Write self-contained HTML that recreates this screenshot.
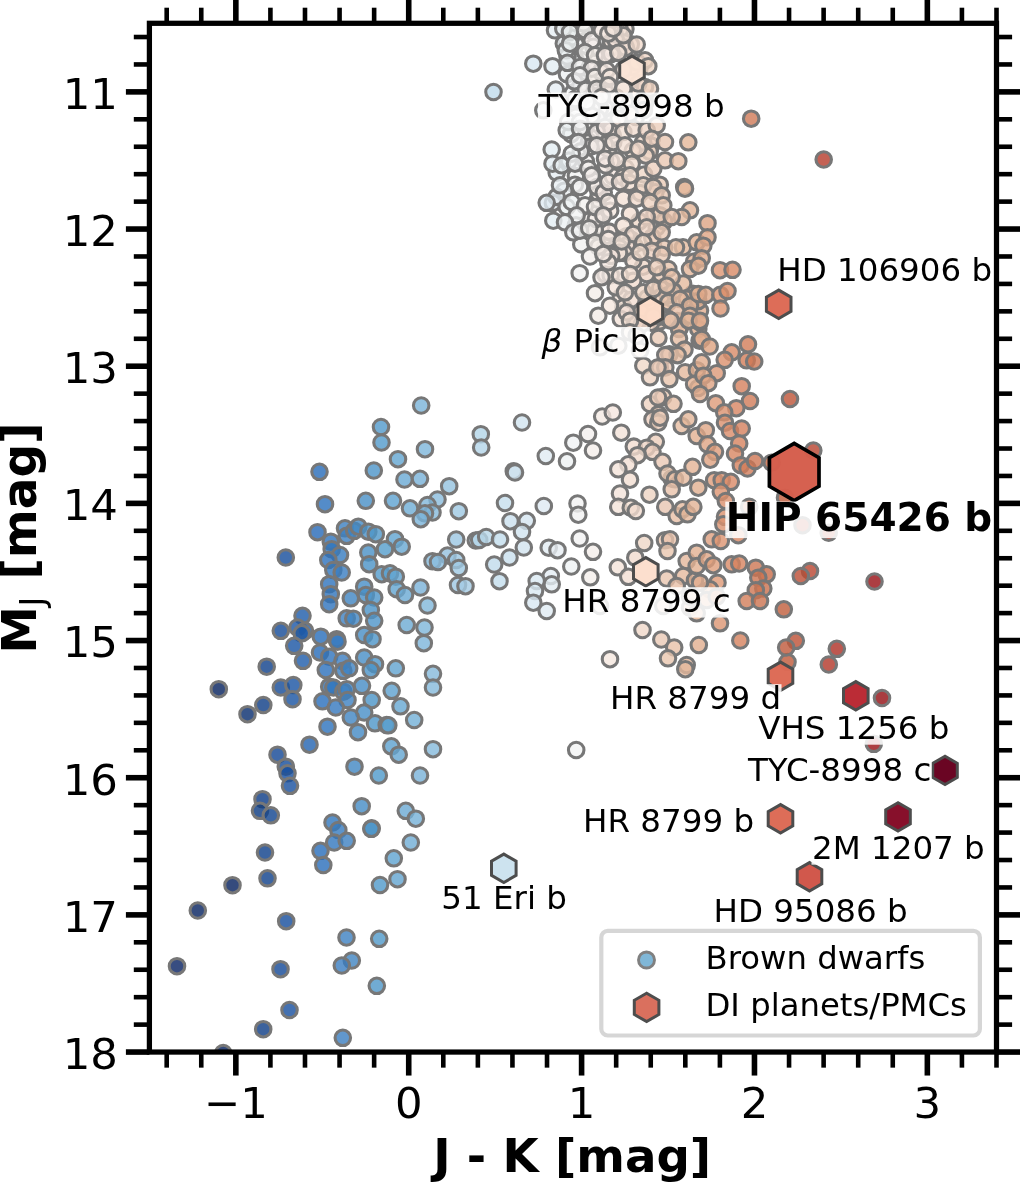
<!DOCTYPE html>
<html><head><meta charset="utf-8"><title>Color-magnitude diagram</title>
<style>html,body{margin:0;padding:0;background:#fff}svg{display:block}</style></head>
<body>
<svg width="1020" height="1182" viewBox="0 0 1020 1182" font-family="'DejaVu Sans', 'Liberation Sans', sans-serif">
<rect width="1020" height="1182" fill="#fff"/>
<defs><clipPath id="ax"><rect x="149.4" y="23.3" width="847.1" height="1028.75"/></clipPath></defs>
<g clip-path="url(#ax)">
<g stroke="#777777" stroke-width="3.1" fill-opacity="0.8">
<circle cx="601.1" cy="226.6" r="7.75" fill="#f4eae5"/>
<circle cx="620.9" cy="297.2" r="7.75" fill="#f3e2d8"/>
<circle cx="593.3" cy="46.8" r="7.75" fill="#f4edea"/>
<circle cx="583.4" cy="82.6" r="7.75" fill="#f3f1f0"/>
<circle cx="552.9" cy="202.9" r="7.75" fill="#e4edf3"/>
<circle cx="605.5" cy="274.6" r="7.75" fill="#f5e9e2"/>
<circle cx="639.5" cy="68.0" r="7.75" fill="#f0dacb"/>
<circle cx="578.1" cy="27.6" r="7.75" fill="#f3f3f3"/>
<circle cx="631.3" cy="239.7" r="7.75" fill="#f2ddd1"/>
<circle cx="640.3" cy="193.1" r="7.75" fill="#f0d9cb"/>
<circle cx="630.8" cy="44.3" r="7.75" fill="#f2ded1"/>
<circle cx="575.9" cy="176.0" r="7.75" fill="#f2f4f4"/>
<circle cx="638.4" cy="317.0" r="7.75" fill="#f1dacc"/>
<circle cx="634.0" cy="245.0" r="7.75" fill="#f1dccf"/>
<circle cx="651.3" cy="145.6" r="7.75" fill="#edd1c0"/>
<circle cx="644.2" cy="174.5" r="7.75" fill="#efd7c7"/>
<circle cx="590.3" cy="137.2" r="7.75" fill="#f4efeb"/>
<circle cx="608.5" cy="112.3" r="7.75" fill="#f5e8e0"/>
<circle cx="610.7" cy="275.2" r="7.75" fill="#f5e7df"/>
<circle cx="612.9" cy="176.5" r="7.75" fill="#f5e6de"/>
<circle cx="592.4" cy="82.3" r="7.75" fill="#f4eeea"/>
<circle cx="577.6" cy="106.7" r="7.75" fill="#f3f3f3"/>
<circle cx="611.0" cy="161.3" r="7.75" fill="#f5e7df"/>
<circle cx="572.8" cy="92.8" r="7.75" fill="#f0f3f4"/>
<circle cx="581.3" cy="60.1" r="7.75" fill="#f3f2f1"/>
<circle cx="692.7" cy="293.9" r="7.75" fill="#e3b395"/>
<circle cx="604.6" cy="80.4" r="7.75" fill="#f5e9e3"/>
<circle cx="659.9" cy="321.3" r="7.75" fill="#eacbb7"/>
<circle cx="604.9" cy="101.9" r="7.75" fill="#f5e9e3"/>
<circle cx="648.0" cy="303.0" r="7.75" fill="#eed4c3"/>
<circle cx="660.2" cy="287.9" r="7.75" fill="#eacab7"/>
<circle cx="566.9" cy="74.1" r="7.75" fill="#edf1f3"/>
<circle cx="649.7" cy="151.6" r="7.75" fill="#eed3c2"/>
<circle cx="659.9" cy="316.6" r="7.75" fill="#eacab7"/>
<circle cx="653.1" cy="242.5" r="7.75" fill="#ecd0be"/>
<circle cx="656.7" cy="227.5" r="7.75" fill="#ebcdba"/>
<circle cx="683.1" cy="283.5" r="7.75" fill="#e5ba9e"/>
<circle cx="574.4" cy="55.7" r="7.75" fill="#f1f3f4"/>
<circle cx="589.1" cy="142.0" r="7.75" fill="#f3efec"/>
<circle cx="611.6" cy="23.2" r="7.75" fill="#f5e6de"/>
<circle cx="571.1" cy="134.2" r="7.75" fill="#eff2f4"/>
<circle cx="626.7" cy="236.2" r="7.75" fill="#f2dfd4"/>
<circle cx="700.0" cy="310.6" r="7.75" fill="#e1ad8e"/>
<circle cx="625.5" cy="168.0" r="7.75" fill="#f3e0d5"/>
<circle cx="608.4" cy="149.5" r="7.75" fill="#f5e8e0"/>
<circle cx="638.7" cy="93.3" r="7.75" fill="#f1dacc"/>
<circle cx="588.7" cy="23.1" r="7.75" fill="#f3efec"/>
<circle cx="623.5" cy="307.4" r="7.75" fill="#f3e1d6"/>
<circle cx="659.8" cy="184.7" r="7.75" fill="#eacbb7"/>
<circle cx="645.8" cy="155.6" r="7.75" fill="#efd6c6"/>
<circle cx="565.7" cy="38.8" r="7.75" fill="#ecf1f3"/>
<circle cx="593.7" cy="180.8" r="7.75" fill="#f4ede9"/>
<circle cx="610.2" cy="210.7" r="7.75" fill="#f5e7df"/>
<circle cx="605.3" cy="246.7" r="7.75" fill="#f5e9e2"/>
<circle cx="586.0" cy="161.6" r="7.75" fill="#f3f0ee"/>
<circle cx="607.8" cy="93.9" r="7.75" fill="#f5e8e1"/>
<circle cx="627.9" cy="73.4" r="7.75" fill="#f2dfd3"/>
<circle cx="652.2" cy="237.4" r="7.75" fill="#edd1bf"/>
<circle cx="605.0" cy="107.8" r="7.75" fill="#f5e9e3"/>
<circle cx="635.9" cy="117.0" r="7.75" fill="#f1dbce"/>
<circle cx="686.7" cy="298.6" r="7.75" fill="#e4b79b"/>
<circle cx="623.1" cy="177.0" r="7.75" fill="#f3e1d6"/>
<circle cx="585.6" cy="127.5" r="7.75" fill="#f3f0ee"/>
<circle cx="609.3" cy="250.9" r="7.75" fill="#f5e7e0"/>
<circle cx="609.1" cy="231.6" r="7.75" fill="#f5e7e0"/>
<circle cx="572.0" cy="23.5" r="7.75" fill="#f0f2f4"/>
<circle cx="610.6" cy="48.1" r="7.75" fill="#f5e7df"/>
<circle cx="644.5" cy="97.3" r="7.75" fill="#efd7c7"/>
<circle cx="581.3" cy="244.4" r="7.75" fill="#f3f2f1"/>
<circle cx="626.9" cy="245.4" r="7.75" fill="#f2dfd4"/>
<circle cx="611.7" cy="122.4" r="7.75" fill="#f5e6de"/>
<circle cx="677.2" cy="321.0" r="7.75" fill="#e6bea4"/>
<circle cx="597.8" cy="199.7" r="7.75" fill="#f4ece7"/>
<circle cx="645.0" cy="103.1" r="7.75" fill="#efd6c7"/>
<circle cx="654.5" cy="214.2" r="7.75" fill="#eccfbd"/>
<circle cx="600.2" cy="108.2" r="7.75" fill="#f4ebe5"/>
<circle cx="664.2" cy="221.3" r="7.75" fill="#e9c7b2"/>
<circle cx="575.7" cy="116.7" r="7.75" fill="#f2f3f4"/>
<circle cx="661.1" cy="274.3" r="7.75" fill="#eacab6"/>
<circle cx="619.2" cy="247.6" r="7.75" fill="#f4e3d9"/>
<circle cx="568.9" cy="160.6" r="7.75" fill="#eef2f3"/>
<circle cx="597.5" cy="67.1" r="7.75" fill="#f4ece7"/>
<circle cx="625.0" cy="101.8" r="7.75" fill="#f3e0d5"/>
<circle cx="576.0" cy="61.1" r="7.75" fill="#f2f4f4"/>
<circle cx="593.5" cy="63.0" r="7.75" fill="#f4edea"/>
<circle cx="625.4" cy="29.1" r="7.75" fill="#f3e0d5"/>
<circle cx="612.8" cy="135.7" r="7.75" fill="#f5e6de"/>
<circle cx="575.8" cy="44.3" r="7.75" fill="#f2f4f4"/>
<circle cx="610.8" cy="40.7" r="7.75" fill="#f5e7df"/>
<circle cx="627.4" cy="54.3" r="7.75" fill="#f2dfd4"/>
<circle cx="639.4" cy="221.4" r="7.75" fill="#f0dacb"/>
<circle cx="563.8" cy="43.5" r="7.75" fill="#ebf0f3"/>
<circle cx="643.1" cy="142.4" r="7.75" fill="#f0d8c9"/>
<circle cx="598.5" cy="246.6" r="7.75" fill="#f4ebe7"/>
<circle cx="644.0" cy="110.0" r="7.75" fill="#efd7c8"/>
<circle cx="592.0" cy="95.7" r="7.75" fill="#f4eeea"/>
<circle cx="624.2" cy="253.0" r="7.75" fill="#f3e1d6"/>
<circle cx="611.2" cy="53.9" r="7.75" fill="#f5e7df"/>
<circle cx="664.0" cy="311.7" r="7.75" fill="#e9c7b2"/>
<circle cx="575.1" cy="99.1" r="7.75" fill="#f2f3f4"/>
<circle cx="632.1" cy="67.0" r="7.75" fill="#f2ddd0"/>
<circle cx="651.2" cy="322.7" r="7.75" fill="#edd1c0"/>
<circle cx="611.1" cy="129.9" r="7.75" fill="#f5e7df"/>
<circle cx="615.9" cy="97.2" r="7.75" fill="#f4e4db"/>
<circle cx="583.4" cy="23.3" r="7.75" fill="#f3f1f0"/>
<circle cx="619.0" cy="252.9" r="7.75" fill="#f4e3d9"/>
<circle cx="659.7" cy="215.2" r="7.75" fill="#eacbb7"/>
<circle cx="598.7" cy="193.7" r="7.75" fill="#f4ebe6"/>
<circle cx="604.9" cy="144.7" r="7.75" fill="#f5e9e3"/>
<circle cx="589.1" cy="220.8" r="7.75" fill="#f3efec"/>
<circle cx="640.8" cy="312.2" r="7.75" fill="#f0d9ca"/>
<circle cx="698.2" cy="301.1" r="7.75" fill="#e1af90"/>
<circle cx="631.4" cy="299.7" r="7.75" fill="#f2ddd1"/>
<circle cx="596.9" cy="187.1" r="7.75" fill="#f4ece7"/>
<circle cx="605.9" cy="165.5" r="7.75" fill="#f5e9e2"/>
<circle cx="619.9" cy="29.9" r="7.75" fill="#f3e3d9"/>
<circle cx="601.5" cy="277.3" r="7.75" fill="#f4eae5"/>
<circle cx="614.4" cy="34.2" r="7.75" fill="#f4e5dc"/>
<circle cx="664.1" cy="247.7" r="7.75" fill="#e9c7b2"/>
<circle cx="567.5" cy="56.5" r="7.75" fill="#edf1f3"/>
<circle cx="580.4" cy="86.3" r="7.75" fill="#f3f2f2"/>
<circle cx="636.5" cy="322.7" r="7.75" fill="#f1dbcd"/>
<circle cx="623.4" cy="69.6" r="7.75" fill="#f3e1d6"/>
<circle cx="667.8" cy="295.2" r="7.75" fill="#e8c5ae"/>
<circle cx="594.8" cy="230.1" r="7.75" fill="#f4ede9"/>
<circle cx="574.9" cy="184.7" r="7.75" fill="#f1f3f4"/>
<circle cx="563.2" cy="22.1" r="7.75" fill="#eaf0f3"/>
<circle cx="624.2" cy="42.5" r="7.75" fill="#f3e1d6"/>
<circle cx="603.7" cy="192.6" r="7.75" fill="#f5e9e3"/>
<circle cx="629.7" cy="113.7" r="7.75" fill="#f2ded2"/>
<circle cx="629.3" cy="182.9" r="7.75" fill="#f2ded2"/>
<circle cx="637.1" cy="62.4" r="7.75" fill="#f1dbcd"/>
<circle cx="642.0" cy="323.9" r="7.75" fill="#f0d8ca"/>
<circle cx="632.8" cy="150.8" r="7.75" fill="#f1ddd0"/>
<circle cx="556.7" cy="172.7" r="7.75" fill="#e6eef3"/>
<circle cx="564.3" cy="190.7" r="7.75" fill="#ebf0f3"/>
<circle cx="597.2" cy="118.1" r="7.75" fill="#f4ece7"/>
<circle cx="618.6" cy="118.8" r="7.75" fill="#f4e3da"/>
<circle cx="590.5" cy="146.6" r="7.75" fill="#f4eeeb"/>
<circle cx="595.5" cy="99.6" r="7.75" fill="#f4ede8"/>
<circle cx="592.1" cy="108.8" r="7.75" fill="#f4eeea"/>
<circle cx="595.9" cy="218.8" r="7.75" fill="#f4ece8"/>
<circle cx="580.8" cy="151.4" r="7.75" fill="#f3f2f1"/>
<circle cx="655.4" cy="192.3" r="7.75" fill="#eccebc"/>
<circle cx="600.8" cy="71.7" r="7.75" fill="#f4ebe5"/>
<circle cx="653.3" cy="316.1" r="7.75" fill="#ecd0be"/>
<circle cx="661.4" cy="296.7" r="7.75" fill="#eac9b5"/>
<circle cx="574.4" cy="81.3" r="7.75" fill="#f1f3f4"/>
<circle cx="571.0" cy="37.5" r="7.75" fill="#eff2f4"/>
<circle cx="585.7" cy="89.9" r="7.75" fill="#f3f0ee"/>
<circle cx="556.6" cy="196.9" r="7.75" fill="#e6eef3"/>
<circle cx="643.0" cy="266.7" r="7.75" fill="#f0d8c9"/>
<circle cx="615.8" cy="40.2" r="7.75" fill="#f4e4db"/>
<circle cx="591.6" cy="115.7" r="7.75" fill="#f4eeeb"/>
<circle cx="575.9" cy="225.4" r="7.75" fill="#f2f4f4"/>
<circle cx="626.0" cy="47.8" r="7.75" fill="#f3e0d5"/>
<circle cx="611.3" cy="255.9" r="7.75" fill="#f5e6df"/>
<circle cx="633.2" cy="280.9" r="7.75" fill="#f1dcd0"/>
<circle cx="647.4" cy="297.9" r="7.75" fill="#eed4c4"/>
<circle cx="673.5" cy="291.4" r="7.75" fill="#e7c1a8"/>
<circle cx="555.0" cy="30.3" r="7.75" fill="#e5eef3"/>
<circle cx="563.3" cy="28.7" r="7.75" fill="#eaf0f3"/>
<circle cx="570.0" cy="32.0" r="7.75" fill="#eef2f3"/>
<circle cx="585.0" cy="30.3" r="7.75" fill="#f3f1ef"/>
<circle cx="591.7" cy="40.3" r="7.75" fill="#f4eeeb"/>
<circle cx="601.7" cy="30.3" r="7.75" fill="#f4eae5"/>
<circle cx="608.3" cy="33.7" r="7.75" fill="#f5e8e1"/>
<circle cx="623.3" cy="35.3" r="7.75" fill="#f3e1d6"/>
<circle cx="636.7" cy="44.5" r="7.75" fill="#f1dbcd"/>
<circle cx="613.3" cy="28.7" r="7.75" fill="#f4e6dd"/>
<circle cx="565.8" cy="50.3" r="7.75" fill="#ecf1f3"/>
<circle cx="570.0" cy="43.7" r="7.75" fill="#eef2f3"/>
<circle cx="585.0" cy="52.0" r="7.75" fill="#f3f1ef"/>
<circle cx="595.0" cy="55.3" r="7.75" fill="#f4ede9"/>
<circle cx="605.0" cy="55.3" r="7.75" fill="#f5e9e3"/>
<circle cx="618.3" cy="52.8" r="7.75" fill="#f4e3da"/>
<circle cx="645.0" cy="60.3" r="7.75" fill="#efd6c7"/>
<circle cx="648.3" cy="66.2" r="7.75" fill="#eed4c3"/>
<circle cx="533.3" cy="63.7" r="7.75" fill="#d8e7f1"/>
<circle cx="552.5" cy="66.2" r="7.75" fill="#e4edf3"/>
<circle cx="567.5" cy="62.8" r="7.75" fill="#edf1f3"/>
<circle cx="580.0" cy="67.0" r="7.75" fill="#f3f2f2"/>
<circle cx="591.7" cy="68.7" r="7.75" fill="#f4eeeb"/>
<circle cx="580.0" cy="75.3" r="7.75" fill="#f3f2f2"/>
<circle cx="595.0" cy="77.0" r="7.75" fill="#f4ede9"/>
<circle cx="606.7" cy="70.3" r="7.75" fill="#f5e8e2"/>
<circle cx="610.0" cy="77.0" r="7.75" fill="#f5e7df"/>
<circle cx="645.0" cy="87.0" r="7.75" fill="#efd6c7"/>
<circle cx="638.3" cy="83.7" r="7.75" fill="#f1dacc"/>
<circle cx="555.8" cy="89.5" r="7.75" fill="#e6eef3"/>
<circle cx="596.7" cy="88.7" r="7.75" fill="#f4ece8"/>
<circle cx="608.3" cy="85.3" r="7.75" fill="#f5e8e1"/>
<circle cx="623.3" cy="88.7" r="7.75" fill="#f3e1d6"/>
<circle cx="650.0" cy="88.7" r="7.75" fill="#eed2c1"/>
<circle cx="543.3" cy="110.3" r="7.75" fill="#deeaf2"/>
<circle cx="568.3" cy="122.0" r="7.75" fill="#edf1f3"/>
<circle cx="586.7" cy="102.0" r="7.75" fill="#f3f0ee"/>
<circle cx="580.0" cy="122.0" r="7.75" fill="#f3f2f2"/>
<circle cx="601.7" cy="97.0" r="7.75" fill="#f4eae5"/>
<circle cx="566.7" cy="130.3" r="7.75" fill="#ecf1f3"/>
<circle cx="580.0" cy="128.7" r="7.75" fill="#f3f2f2"/>
<circle cx="596.7" cy="132.0" r="7.75" fill="#f4ece8"/>
<circle cx="605.0" cy="127.0" r="7.75" fill="#f5e9e3"/>
<circle cx="623.3" cy="132.0" r="7.75" fill="#f3e1d6"/>
<circle cx="633.3" cy="128.7" r="7.75" fill="#f1dccf"/>
<circle cx="646.7" cy="130.3" r="7.75" fill="#efd5c5"/>
<circle cx="656.7" cy="125.3" r="7.75" fill="#ebcdba"/>
<circle cx="551.7" cy="149.5" r="7.75" fill="#e3edf3"/>
<circle cx="571.7" cy="153.7" r="7.75" fill="#eff2f4"/>
<circle cx="578.3" cy="142.0" r="7.75" fill="#f3f3f3"/>
<circle cx="596.7" cy="145.3" r="7.75" fill="#f4ece8"/>
<circle cx="613.3" cy="142.0" r="7.75" fill="#f4e6dd"/>
<circle cx="625.0" cy="145.3" r="7.75" fill="#f3e0d5"/>
<circle cx="638.3" cy="148.7" r="7.75" fill="#f1dacc"/>
<circle cx="651.7" cy="138.7" r="7.75" fill="#edd1c0"/>
<circle cx="665.0" cy="142.0" r="7.75" fill="#e9c7b1"/>
<circle cx="688.3" cy="142.3" r="7.75" fill="#e4b699"/>
<circle cx="552.5" cy="163.7" r="7.75" fill="#e4edf3"/>
<circle cx="561.7" cy="165.3" r="7.75" fill="#e9f0f3"/>
<circle cx="575.0" cy="163.7" r="7.75" fill="#f1f3f4"/>
<circle cx="588.3" cy="168.7" r="7.75" fill="#f3efed"/>
<circle cx="605.0" cy="158.7" r="7.75" fill="#f5e9e3"/>
<circle cx="616.7" cy="160.3" r="7.75" fill="#f4e4db"/>
<circle cx="631.7" cy="163.7" r="7.75" fill="#f2ddd1"/>
<circle cx="653.3" cy="168.7" r="7.75" fill="#ecd0be"/>
<circle cx="665.0" cy="160.3" r="7.75" fill="#e9c7b1"/>
<circle cx="678.3" cy="161.2" r="7.75" fill="#e6bda3"/>
<circle cx="560.0" cy="185.3" r="7.75" fill="#e8eff3"/>
<circle cx="580.0" cy="187.0" r="7.75" fill="#f3f2f2"/>
<circle cx="591.7" cy="175.3" r="7.75" fill="#f4eeeb"/>
<circle cx="608.3" cy="182.0" r="7.75" fill="#f5e8e1"/>
<circle cx="620.0" cy="182.0" r="7.75" fill="#f3e2d9"/>
<circle cx="630.0" cy="175.3" r="7.75" fill="#f2ded2"/>
<circle cx="643.3" cy="185.3" r="7.75" fill="#f0d8c8"/>
<circle cx="653.3" cy="187.0" r="7.75" fill="#ecd0be"/>
<circle cx="661.7" cy="195.3" r="7.75" fill="#eac9b5"/>
<circle cx="684.2" cy="187.0" r="7.75" fill="#e5b99d"/>
<circle cx="685.0" cy="188.7" r="7.75" fill="#e4b89c"/>
<circle cx="546.7" cy="202.8" r="7.75" fill="#e0ebf3"/>
<circle cx="566.7" cy="207.0" r="7.75" fill="#ecf1f3"/>
<circle cx="571.7" cy="202.0" r="7.75" fill="#eff2f4"/>
<circle cx="585.0" cy="205.3" r="7.75" fill="#f3f1ef"/>
<circle cx="595.0" cy="207.0" r="7.75" fill="#f4ede9"/>
<circle cx="608.3" cy="202.0" r="7.75" fill="#f5e8e1"/>
<circle cx="623.3" cy="198.7" r="7.75" fill="#f3e1d6"/>
<circle cx="636.7" cy="198.7" r="7.75" fill="#f1dbcd"/>
<circle cx="650.0" cy="202.0" r="7.75" fill="#eed2c1"/>
<circle cx="663.3" cy="205.3" r="7.75" fill="#e9c8b3"/>
<circle cx="690.0" cy="210.3" r="7.75" fill="#e3b598"/>
<circle cx="681.7" cy="217.0" r="7.75" fill="#e5bba0"/>
<circle cx="576.7" cy="215.3" r="7.75" fill="#f2f4f4"/>
<circle cx="603.3" cy="215.3" r="7.75" fill="#f5eae4"/>
<circle cx="630.0" cy="213.7" r="7.75" fill="#f2ded2"/>
<circle cx="646.7" cy="217.0" r="7.75" fill="#efd5c5"/>
<circle cx="671.7" cy="217.0" r="7.75" fill="#e8c2aa"/>
<circle cx="553.3" cy="220.7" r="7.75" fill="#e4edf3"/>
<circle cx="565.0" cy="222.3" r="7.75" fill="#ebf0f3"/>
<circle cx="573.3" cy="232.3" r="7.75" fill="#f0f3f4"/>
<circle cx="580.0" cy="230.7" r="7.75" fill="#f3f2f2"/>
<circle cx="589.2" cy="228.2" r="7.75" fill="#f3efec"/>
<circle cx="595.0" cy="242.3" r="7.75" fill="#f4ede9"/>
<circle cx="590.0" cy="256.5" r="7.75" fill="#f4efec"/>
<circle cx="579.7" cy="273.2" r="7.75" fill="#f3f3f2"/>
<circle cx="608.3" cy="239.0" r="7.75" fill="#f5e8e1"/>
<circle cx="608.3" cy="262.3" r="7.75" fill="#f5e8e1"/>
<circle cx="603.3" cy="254.0" r="7.75" fill="#f5eae4"/>
<circle cx="595.0" cy="293.2" r="7.75" fill="#f4ede9"/>
<circle cx="615.8" cy="287.3" r="7.75" fill="#f4e4db"/>
<circle cx="610.0" cy="305.7" r="7.75" fill="#f5e7df"/>
<circle cx="598.3" cy="315.7" r="7.75" fill="#f4ece7"/>
<circle cx="620.8" cy="319.0" r="7.75" fill="#f3e2d8"/>
<circle cx="626.7" cy="312.3" r="7.75" fill="#f2dfd4"/>
<circle cx="630.0" cy="320.7" r="7.75" fill="#f2ded2"/>
<circle cx="600.0" cy="347.3" r="7.75" fill="#f4ebe6"/>
<circle cx="618.3" cy="345.7" r="7.75" fill="#f4e3da"/>
<circle cx="630.0" cy="332.3" r="7.75" fill="#f2ded2"/>
<circle cx="640.0" cy="350.7" r="7.75" fill="#f0d9cb"/>
<circle cx="643.3" cy="365.7" r="7.75" fill="#f0d8c8"/>
<circle cx="650.0" cy="377.3" r="7.75" fill="#eed2c1"/>
<circle cx="636.7" cy="335.7" r="7.75" fill="#f1dbcd"/>
<circle cx="650.0" cy="404.0" r="7.75" fill="#eed2c1"/>
<circle cx="623.3" cy="225.7" r="7.75" fill="#f3e1d6"/>
<circle cx="633.3" cy="234.0" r="7.75" fill="#f1dccf"/>
<circle cx="646.7" cy="227.3" r="7.75" fill="#efd5c5"/>
<circle cx="661.7" cy="232.3" r="7.75" fill="#eac9b5"/>
<circle cx="621.7" cy="241.5" r="7.75" fill="#f3e2d7"/>
<circle cx="643.3" cy="242.3" r="7.75" fill="#f0d8c8"/>
<circle cx="651.7" cy="250.7" r="7.75" fill="#edd1c0"/>
<circle cx="661.7" cy="254.8" r="7.75" fill="#eac9b5"/>
<circle cx="633.3" cy="260.7" r="7.75" fill="#f1dccf"/>
<circle cx="640.0" cy="252.3" r="7.75" fill="#f0d9cb"/>
<circle cx="620.0" cy="275.7" r="7.75" fill="#f3e2d9"/>
<circle cx="630.0" cy="274.0" r="7.75" fill="#f2ded2"/>
<circle cx="646.7" cy="274.0" r="7.75" fill="#efd5c5"/>
<circle cx="668.3" cy="269.0" r="7.75" fill="#e8c4ad"/>
<circle cx="671.7" cy="277.3" r="7.75" fill="#e8c2aa"/>
<circle cx="656.7" cy="267.3" r="7.75" fill="#ebcdba"/>
<circle cx="625.0" cy="292.3" r="7.75" fill="#f3e0d5"/>
<circle cx="643.3" cy="292.3" r="7.75" fill="#f0d8c8"/>
<circle cx="653.3" cy="289.0" r="7.75" fill="#ecd0be"/>
<circle cx="666.7" cy="285.7" r="7.75" fill="#e9c5af"/>
<circle cx="668.3" cy="302.3" r="7.75" fill="#e8c4ad"/>
<circle cx="680.0" cy="299.0" r="7.75" fill="#e6bca1"/>
<circle cx="690.0" cy="305.7" r="7.75" fill="#e3b598"/>
<circle cx="676.7" cy="312.3" r="7.75" fill="#e7bea5"/>
<circle cx="690.0" cy="315.7" r="7.75" fill="#e3b598"/>
<circle cx="668.3" cy="319.0" r="7.75" fill="#e8c4ad"/>
<circle cx="680.0" cy="327.3" r="7.75" fill="#e6bca1"/>
<circle cx="698.3" cy="329.0" r="7.75" fill="#e1af90"/>
<circle cx="683.0" cy="247.3" r="7.75" fill="#e5ba9e"/>
<circle cx="676.0" cy="247.3" r="7.75" fill="#e7bfa5"/>
<circle cx="696.7" cy="242.3" r="7.75" fill="#e2b091"/>
<circle cx="694.2" cy="261.5" r="7.75" fill="#e2b294"/>
<circle cx="690.0" cy="269.0" r="7.75" fill="#e3b598"/>
<circle cx="698.3" cy="294.0" r="7.75" fill="#e1af90"/>
<circle cx="679.0" cy="329.0" r="7.75" fill="#e6bda2"/>
<circle cx="699.6" cy="322.1" r="7.75" fill="#e1ae8e"/>
<circle cx="688.6" cy="320.7" r="7.75" fill="#e4b699"/>
<circle cx="670.8" cy="320.7" r="7.75" fill="#e8c3ab"/>
<circle cx="658.4" cy="337.9" r="7.75" fill="#ebccb8"/>
<circle cx="679.0" cy="338.6" r="7.75" fill="#e6bda2"/>
<circle cx="684.5" cy="349.6" r="7.75" fill="#e5b99d"/>
<circle cx="699.6" cy="340.6" r="7.75" fill="#e1ae8e"/>
<circle cx="669.4" cy="354.4" r="7.75" fill="#e8c4ac"/>
<circle cx="677.6" cy="355.1" r="7.75" fill="#e6bea4"/>
<circle cx="665.3" cy="355.1" r="7.75" fill="#e9c6b1"/>
<circle cx="659.8" cy="367.4" r="7.75" fill="#eacbb7"/>
<circle cx="665.3" cy="367.4" r="7.75" fill="#e9c6b1"/>
<circle cx="685.2" cy="372.2" r="7.75" fill="#e4b89c"/>
<circle cx="669.4" cy="379.1" r="7.75" fill="#e8c4ac"/>
<circle cx="696.9" cy="370.2" r="7.75" fill="#e2b091"/>
<circle cx="698.2" cy="388.0" r="7.75" fill="#e1af90"/>
<circle cx="694.1" cy="383.9" r="7.75" fill="#e2b294"/>
<circle cx="663.2" cy="396.9" r="7.75" fill="#e9c8b3"/>
<circle cx="673.5" cy="403.8" r="7.75" fill="#e7c1a8"/>
<circle cx="658.4" cy="414.1" r="7.75" fill="#ebccb8"/>
<circle cx="493.5" cy="92.0" r="7.75" fill="#bfdbeb"/>
<circle cx="633.8" cy="446.6" r="7.75" fill="#f1dccf"/>
<circle cx="671.5" cy="478.5" r="7.75" fill="#e8c2aa"/>
<circle cx="381.0" cy="427.0" r="7.75" fill="#5099ca"/>
<circle cx="381.5" cy="442.5" r="7.75" fill="#519aca"/>
<circle cx="398.0" cy="459.2" r="7.75" fill="#62a5d1"/>
<circle cx="373.8" cy="470.5" r="7.75" fill="#4b94c8"/>
<circle cx="319.5" cy="471.8" r="7.75" fill="#256ab8"/>
<circle cx="218.8" cy="689.2" r="7.75" fill="#021f5d"/>
<circle cx="247.5" cy="714.2" r="7.75" fill="#052a6d"/>
<circle cx="232.5" cy="885.2" r="7.75" fill="#021e5c"/>
<circle cx="197.8" cy="910.5" r="7.75" fill="#04205f"/>
<circle cx="286.2" cy="921.2" r="7.75" fill="#134b9b"/>
<circle cx="346.5" cy="937.5" r="7.75" fill="#3c7fc0"/>
<circle cx="379.2" cy="938.8" r="7.75" fill="#4f98c9"/>
<circle cx="380.0" cy="885.0" r="7.75" fill="#4f99c9"/>
<circle cx="177.0" cy="966.2" r="7.75" fill="#062162"/>
<circle cx="280.5" cy="969.2" r="7.75" fill="#114796"/>
<circle cx="351.8" cy="960.5" r="7.75" fill="#3f83c1"/>
<circle cx="341.8" cy="965.5" r="7.75" fill="#387cbf"/>
<circle cx="376.8" cy="985.8" r="7.75" fill="#4d96c8"/>
<circle cx="289.5" cy="1010.0" r="7.75" fill="#154e9e"/>
<circle cx="263.2" cy="1029.2" r="7.75" fill="#0b3b85"/>
<circle cx="342.8" cy="1037.8" r="7.75" fill="#397dbf"/>
<circle cx="223.2" cy="1053.0" r="7.75" fill="#021f5d"/>
<circle cx="421.2" cy="405.5" r="7.75" fill="#79b3d8"/>
<circle cx="425.0" cy="449.2" r="7.75" fill="#7db5d9"/>
<circle cx="404.5" cy="479.5" r="7.75" fill="#69a9d3"/>
<circle cx="420.0" cy="478.8" r="7.75" fill="#78b2d8"/>
<circle cx="449.2" cy="486.2" r="7.75" fill="#94c2df"/>
<circle cx="437.5" cy="499.5" r="7.75" fill="#89bcdc"/>
<circle cx="427.5" cy="505.0" r="7.75" fill="#7fb6da"/>
<circle cx="432.5" cy="512.5" r="7.75" fill="#84b9db"/>
<circle cx="458.8" cy="511.2" r="7.75" fill="#9dc8e2"/>
<circle cx="480.8" cy="434.2" r="7.75" fill="#b2d4e7"/>
<circle cx="481.2" cy="447.5" r="7.75" fill="#b3d4e8"/>
<circle cx="522.0" cy="422.5" r="7.75" fill="#d1e4ef"/>
<circle cx="513.8" cy="471.2" r="7.75" fill="#cce1ee"/>
<circle cx="515.0" cy="472.5" r="7.75" fill="#cde1ee"/>
<circle cx="505.0" cy="503.0" r="7.75" fill="#c6deed"/>
<circle cx="510.5" cy="521.2" r="7.75" fill="#cae0ed"/>
<circle cx="526.8" cy="520.8" r="7.75" fill="#d4e5f0"/>
<circle cx="522.0" cy="532.0" r="7.75" fill="#d1e4ef"/>
<circle cx="456.2" cy="539.5" r="7.75" fill="#9bc6e1"/>
<circle cx="475.8" cy="540.5" r="7.75" fill="#aed1e6"/>
<circle cx="479.2" cy="540.0" r="7.75" fill="#b1d3e7"/>
<circle cx="486.2" cy="537.0" r="7.75" fill="#b8d7e9"/>
<circle cx="500.0" cy="539.5" r="7.75" fill="#c3ddec"/>
<circle cx="523.8" cy="547.5" r="7.75" fill="#d2e4ef"/>
<circle cx="447.5" cy="555.5" r="7.75" fill="#93c1df"/>
<circle cx="456.2" cy="560.0" r="7.75" fill="#9bc6e1"/>
<circle cx="432.5" cy="561.2" r="7.75" fill="#84b9db"/>
<circle cx="438.0" cy="562.0" r="7.75" fill="#89bcdd"/>
<circle cx="458.8" cy="568.0" r="7.75" fill="#9dc8e2"/>
<circle cx="509.5" cy="557.5" r="7.75" fill="#c9e0ed"/>
<circle cx="494.2" cy="564.5" r="7.75" fill="#c0dbeb"/>
<circle cx="499.5" cy="581.2" r="7.75" fill="#c3ddec"/>
<circle cx="458.0" cy="585.0" r="7.75" fill="#9dc7e2"/>
<circle cx="465.5" cy="586.2" r="7.75" fill="#a4cbe4"/>
<circle cx="420.5" cy="587.5" r="7.75" fill="#79b2d8"/>
<circle cx="427.5" cy="605.5" r="7.75" fill="#7fb6da"/>
<circle cx="424.5" cy="627.5" r="7.75" fill="#7db5d9"/>
<circle cx="423.8" cy="643.2" r="7.75" fill="#7cb4d9"/>
<circle cx="657.5" cy="367.5" r="7.75" fill="#ebccb9"/>
<circle cx="658.0" cy="397.5" r="7.75" fill="#ebccb9"/>
<circle cx="433.0" cy="673.8" r="7.75" fill="#85b9db"/>
<circle cx="433.0" cy="687.5" r="7.75" fill="#85b9db"/>
<circle cx="433.0" cy="749.2" r="7.75" fill="#85b9db"/>
<circle cx="576.2" cy="750.0" r="7.75" fill="#f2f4f4"/>
<circle cx="882.0" cy="698.0" r="7.75" fill="#940d12"/>
<circle cx="828.8" cy="664.5" r="7.75" fill="#b23427"/>
<circle cx="787.5" cy="662.0" r="7.75" fill="#be5737"/>
<circle cx="873.8" cy="743.8" r="7.75" fill="#980e13"/>
<circle cx="707.5" cy="223.2" r="7.75" fill="#dfa483"/>
<circle cx="707.5" cy="237.3" r="7.75" fill="#dfa483"/>
<circle cx="703.3" cy="245.7" r="7.75" fill="#e0a989"/>
<circle cx="701.7" cy="258.2" r="7.75" fill="#e0ab8c"/>
<circle cx="698.3" cy="265.7" r="7.75" fill="#e1af90"/>
<circle cx="720.0" cy="270.2" r="7.75" fill="#dc9572"/>
<circle cx="732.5" cy="269.8" r="7.75" fill="#d88965"/>
<circle cx="705.8" cy="294.8" r="7.75" fill="#dfa686"/>
<circle cx="720.3" cy="294.8" r="7.75" fill="#dc9572"/>
<circle cx="727.5" cy="291.0" r="7.75" fill="#da8e6a"/>
<circle cx="720.5" cy="308.5" r="7.75" fill="#dc9572"/>
<circle cx="700.0" cy="320.7" r="7.75" fill="#e1ad8e"/>
<circle cx="701.7" cy="339.0" r="7.75" fill="#e0ab8c"/>
<circle cx="709.7" cy="346.5" r="7.75" fill="#dfa280"/>
<circle cx="748.0" cy="344.3" r="7.75" fill="#d17c58"/>
<circle cx="731.7" cy="352.3" r="7.75" fill="#d88a66"/>
<circle cx="724.7" cy="359.8" r="7.75" fill="#db906d"/>
<circle cx="746.7" cy="360.3" r="7.75" fill="#d27d59"/>
<circle cx="754.2" cy="361.5" r="7.75" fill="#ce7754"/>
<circle cx="701.7" cy="362.3" r="7.75" fill="#e0ab8c"/>
<circle cx="716.7" cy="373.2" r="7.75" fill="#dd9977"/>
<circle cx="703.3" cy="375.7" r="7.75" fill="#e0a989"/>
<circle cx="708.3" cy="383.2" r="7.75" fill="#dfa382"/>
<circle cx="741.7" cy="386.2" r="7.75" fill="#d5805c"/>
<circle cx="700.0" cy="394.0" r="7.75" fill="#e1ad8e"/>
<circle cx="715.8" cy="403.2" r="7.75" fill="#dd9a78"/>
<circle cx="750.0" cy="401.0" r="7.75" fill="#d07a57"/>
<circle cx="736.3" cy="408.2" r="7.75" fill="#d78561"/>
<circle cx="724.2" cy="412.3" r="7.75" fill="#db916e"/>
<circle cx="790.0" cy="399.0" r="7.75" fill="#bd5336"/>
<circle cx="545.8" cy="456.0" r="7.75" fill="#e0ebf3"/>
<circle cx="567.0" cy="461.3" r="7.75" fill="#edf1f3"/>
<circle cx="573.3" cy="442.7" r="7.75" fill="#f0f3f4"/>
<circle cx="588.0" cy="434.0" r="7.75" fill="#f3efed"/>
<circle cx="593.0" cy="450.5" r="7.75" fill="#f4eeea"/>
<circle cx="602.2" cy="416.5" r="7.75" fill="#f4eae4"/>
<circle cx="612.8" cy="412.5" r="7.75" fill="#f5e6de"/>
<circle cx="621.3" cy="432.7" r="7.75" fill="#f3e2d8"/>
<circle cx="652.5" cy="419.3" r="7.75" fill="#edd0bf"/>
<circle cx="658.3" cy="422.7" r="7.75" fill="#ebccb9"/>
<circle cx="660.0" cy="417.7" r="7.75" fill="#eacab7"/>
<circle cx="681.7" cy="426.0" r="7.75" fill="#e5bba0"/>
<circle cx="688.3" cy="419.3" r="7.75" fill="#e4b699"/>
<circle cx="696.7" cy="436.0" r="7.75" fill="#e2b091"/>
<circle cx="655.8" cy="441.8" r="7.75" fill="#eccebb"/>
<circle cx="646.7" cy="447.7" r="7.75" fill="#efd5c5"/>
<circle cx="652.5" cy="451.8" r="7.75" fill="#edd0bf"/>
<circle cx="637.5" cy="455.2" r="7.75" fill="#f1dbcd"/>
<circle cx="628.3" cy="464.3" r="7.75" fill="#f2dfd3"/>
<circle cx="618.3" cy="469.3" r="7.75" fill="#f4e3da"/>
<circle cx="630.0" cy="479.7" r="7.75" fill="#f2ded2"/>
<circle cx="662.5" cy="461.8" r="7.75" fill="#eac8b4"/>
<circle cx="667.5" cy="473.5" r="7.75" fill="#e9c5ae"/>
<circle cx="675.0" cy="479.3" r="7.75" fill="#e7bfa6"/>
<circle cx="683.3" cy="477.7" r="7.75" fill="#e5b99e"/>
<circle cx="692.5" cy="466.8" r="7.75" fill="#e3b395"/>
<circle cx="671.7" cy="489.3" r="7.75" fill="#e8c2aa"/>
<circle cx="698.3" cy="487.7" r="7.75" fill="#e1af90"/>
<circle cx="620.0" cy="493.5" r="7.75" fill="#f3e2d9"/>
<circle cx="649.5" cy="494.7" r="7.75" fill="#eed3c2"/>
<circle cx="618.3" cy="506.8" r="7.75" fill="#f4e3da"/>
<circle cx="630.8" cy="507.7" r="7.75" fill="#f2ded1"/>
<circle cx="635.8" cy="511.0" r="7.75" fill="#f1dbce"/>
<circle cx="665.3" cy="506.8" r="7.75" fill="#e9c6b1"/>
<circle cx="676.7" cy="516.0" r="7.75" fill="#e7bea5"/>
<circle cx="682.5" cy="509.3" r="7.75" fill="#e5ba9f"/>
<circle cx="687.5" cy="514.3" r="7.75" fill="#e4b69a"/>
<circle cx="693.3" cy="506.8" r="7.75" fill="#e2b294"/>
<circle cx="543.8" cy="506.0" r="7.75" fill="#dfeaf2"/>
<circle cx="577.5" cy="503.5" r="7.75" fill="#f3f3f3"/>
<circle cx="578.3" cy="514.7" r="7.75" fill="#f3f3f3"/>
<circle cx="579.7" cy="538.5" r="7.75" fill="#f3f3f2"/>
<circle cx="548.7" cy="547.7" r="7.75" fill="#e2ecf3"/>
<circle cx="557.5" cy="550.2" r="7.75" fill="#e7eef3"/>
<circle cx="593.0" cy="551.8" r="7.75" fill="#f4eeea"/>
<circle cx="644.2" cy="543.0" r="7.75" fill="#efd7c7"/>
<circle cx="665.0" cy="540.2" r="7.75" fill="#e9c7b1"/>
<circle cx="670.0" cy="539.3" r="7.75" fill="#e8c3ac"/>
<circle cx="667.5" cy="551.0" r="7.75" fill="#e9c5ae"/>
<circle cx="635.3" cy="557.7" r="7.75" fill="#f1dbce"/>
<circle cx="571.3" cy="566.5" r="7.75" fill="#eff2f4"/>
<circle cx="617.8" cy="567.3" r="7.75" fill="#f4e3da"/>
<circle cx="590.3" cy="577.3" r="7.75" fill="#f4efeb"/>
<circle cx="628.3" cy="576.8" r="7.75" fill="#f2dfd3"/>
<circle cx="666.7" cy="578.5" r="7.75" fill="#e9c5af"/>
<circle cx="550.8" cy="576.0" r="7.75" fill="#e3ecf3"/>
<circle cx="551.7" cy="584.3" r="7.75" fill="#e3edf3"/>
<circle cx="536.7" cy="581.0" r="7.75" fill="#dae8f1"/>
<circle cx="535.0" cy="591.0" r="7.75" fill="#d9e8f1"/>
<circle cx="533.3" cy="602.7" r="7.75" fill="#d8e7f1"/>
<circle cx="546.7" cy="611.0" r="7.75" fill="#e0ebf3"/>
<circle cx="686.7" cy="561.0" r="7.75" fill="#e4b79b"/>
<circle cx="696.7" cy="552.7" r="7.75" fill="#e2b091"/>
<circle cx="683.3" cy="576.0" r="7.75" fill="#e5b99e"/>
<circle cx="695.0" cy="580.2" r="7.75" fill="#e2b193"/>
<circle cx="696.7" cy="566.0" r="7.75" fill="#e2b091"/>
<circle cx="676.7" cy="586.0" r="7.75" fill="#e7bea5"/>
<circle cx="600.0" cy="606.0" r="7.75" fill="#f4ebe6"/>
<circle cx="663.3" cy="606.0" r="7.75" fill="#e9c8b3"/>
<circle cx="690.0" cy="607.7" r="7.75" fill="#e3b598"/>
<circle cx="705.8" cy="430.2" r="7.75" fill="#dfa686"/>
<circle cx="707.5" cy="444.3" r="7.75" fill="#dfa483"/>
<circle cx="715.0" cy="451.8" r="7.75" fill="#dd9b79"/>
<circle cx="710.3" cy="459.7" r="7.75" fill="#dea180"/>
<circle cx="725.0" cy="422.7" r="7.75" fill="#da906d"/>
<circle cx="730.0" cy="431.0" r="7.75" fill="#d98b68"/>
<circle cx="741.7" cy="428.5" r="7.75" fill="#d5805c"/>
<circle cx="739.2" cy="443.5" r="7.75" fill="#d6825e"/>
<circle cx="735.0" cy="453.5" r="7.75" fill="#d78662"/>
<circle cx="740.8" cy="465.2" r="7.75" fill="#d5815d"/>
<circle cx="747.5" cy="468.5" r="7.75" fill="#d27c59"/>
<circle cx="755.0" cy="461.0" r="7.75" fill="#ce7653"/>
<circle cx="771.7" cy="462.7" r="7.75" fill="#c56845"/>
<circle cx="813.3" cy="450.5" r="7.75" fill="#b8412d"/>
<circle cx="714.2" cy="480.2" r="7.75" fill="#dd9c7a"/>
<circle cx="721.7" cy="480.2" r="7.75" fill="#dc9370"/>
<circle cx="730.8" cy="481.8" r="7.75" fill="#d98a67"/>
<circle cx="720.8" cy="491.8" r="7.75" fill="#dc9471"/>
<circle cx="725.8" cy="501.0" r="7.75" fill="#da8f6c"/>
<circle cx="749.2" cy="506.8" r="7.75" fill="#d17b58"/>
<circle cx="725.0" cy="516.8" r="7.75" fill="#da906d"/>
<circle cx="723.3" cy="524.3" r="7.75" fill="#db926f"/>
<circle cx="738.3" cy="535.2" r="7.75" fill="#d6835f"/>
<circle cx="802.5" cy="525.2" r="7.75" fill="#ba4931"/>
<circle cx="828.7" cy="532.7" r="7.75" fill="#b23427"/>
<circle cx="711.7" cy="539.3" r="7.75" fill="#de9f7e"/>
<circle cx="720.8" cy="541.0" r="7.75" fill="#dc9471"/>
<circle cx="785.0" cy="497.7" r="7.75" fill="#bf5a3a"/>
<circle cx="706.7" cy="559.3" r="7.75" fill="#dfa585"/>
<circle cx="713.3" cy="565.2" r="7.75" fill="#de9d7b"/>
<circle cx="731.7" cy="564.3" r="7.75" fill="#d88a66"/>
<circle cx="739.2" cy="563.5" r="7.75" fill="#d6825e"/>
<circle cx="755.8" cy="567.7" r="7.75" fill="#cd7552"/>
<circle cx="766.7" cy="574.3" r="7.75" fill="#c86c49"/>
<circle cx="758.3" cy="577.7" r="7.75" fill="#cc7350"/>
<circle cx="763.3" cy="588.5" r="7.75" fill="#c96f4c"/>
<circle cx="755.8" cy="590.2" r="7.75" fill="#cd7552"/>
<circle cx="746.7" cy="601.0" r="7.75" fill="#d27d59"/>
<circle cx="760.0" cy="601.0" r="7.75" fill="#cb724f"/>
<circle cx="810.0" cy="571.0" r="7.75" fill="#b8432e"/>
<circle cx="800.8" cy="576.0" r="7.75" fill="#ba4b32"/>
<circle cx="874.5" cy="581.5" r="7.75" fill="#970e13"/>
<circle cx="783.8" cy="609.3" r="7.75" fill="#bf5c3b"/>
<circle cx="717.5" cy="582.7" r="7.75" fill="#dd9876"/>
<circle cx="710.0" cy="589.3" r="7.75" fill="#dea180"/>
<circle cx="700.0" cy="582.7" r="7.75" fill="#e1ad8e"/>
<circle cx="642.5" cy="630.0" r="7.75" fill="#f0d8c9"/>
<circle cx="610.0" cy="659.2" r="7.75" fill="#f5e7df"/>
<circle cx="661.3" cy="639.5" r="7.75" fill="#eac9b5"/>
<circle cx="674.2" cy="647.5" r="7.75" fill="#e7c0a7"/>
<circle cx="668.0" cy="658.3" r="7.75" fill="#e8c5ae"/>
<circle cx="686.7" cy="665.0" r="7.75" fill="#e4b79b"/>
<circle cx="685.3" cy="669.2" r="7.75" fill="#e4b89c"/>
<circle cx="698.8" cy="645.0" r="7.75" fill="#e1ae8f"/>
<circle cx="720.0" cy="623.3" r="7.75" fill="#dc9572"/>
<circle cx="740.3" cy="640.5" r="7.75" fill="#d5815d"/>
<circle cx="696.7" cy="613.3" r="7.75" fill="#e2b091"/>
<circle cx="706.7" cy="600.0" r="7.75" fill="#dfa585"/>
<circle cx="716.7" cy="596.7" r="7.75" fill="#dd9977"/>
<circle cx="690.0" cy="596.7" r="7.75" fill="#e3b598"/>
<circle cx="751.2" cy="118.7" r="7.75" fill="#d07956"/>
<circle cx="823.7" cy="159.5" r="7.75" fill="#b53929"/>
<circle cx="795.8" cy="640.8" r="7.75" fill="#bb4f33"/>
<circle cx="786.2" cy="647.5" r="7.75" fill="#be5839"/>
<circle cx="836.8" cy="648.8" r="7.75" fill="#ad2e24"/>
<circle cx="325.0" cy="504.2" r="7.75" fill="#296fbb"/>
<circle cx="365.8" cy="500.8" r="7.75" fill="#478ec5"/>
<circle cx="393.0" cy="500.8" r="7.75" fill="#5da1cf"/>
<circle cx="410.0" cy="508.3" r="7.75" fill="#6eacd5"/>
<circle cx="425.0" cy="513.3" r="7.75" fill="#7db5d9"/>
<circle cx="420.8" cy="519.2" r="7.75" fill="#79b3d8"/>
<circle cx="317.5" cy="532.2" r="7.75" fill="#2468b6"/>
<circle cx="345.0" cy="528.3" r="7.75" fill="#3b7ebf"/>
<circle cx="346.7" cy="535.8" r="7.75" fill="#3c80c0"/>
<circle cx="354.2" cy="530.8" r="7.75" fill="#4085c2"/>
<circle cx="358.3" cy="526.7" r="7.75" fill="#4288c3"/>
<circle cx="368.3" cy="531.7" r="7.75" fill="#4890c6"/>
<circle cx="375.8" cy="534.2" r="7.75" fill="#4d96c8"/>
<circle cx="330.8" cy="541.7" r="7.75" fill="#2e73bc"/>
<circle cx="331.7" cy="549.2" r="7.75" fill="#2f74bc"/>
<circle cx="340.0" cy="555.0" r="7.75" fill="#367abe"/>
<circle cx="285.8" cy="557.5" r="7.75" fill="#134b9a"/>
<circle cx="395.0" cy="539.2" r="7.75" fill="#5fa3cf"/>
<circle cx="401.7" cy="546.7" r="7.75" fill="#66a7d2"/>
<circle cx="385.0" cy="549.2" r="7.75" fill="#549ccb"/>
<circle cx="368.3" cy="552.5" r="7.75" fill="#4890c6"/>
<circle cx="369.2" cy="564.2" r="7.75" fill="#4991c6"/>
<circle cx="328.3" cy="560.0" r="7.75" fill="#2c71bc"/>
<circle cx="333.3" cy="570.0" r="7.75" fill="#3075bd"/>
<circle cx="341.7" cy="572.5" r="7.75" fill="#387cbf"/>
<circle cx="381.7" cy="574.2" r="7.75" fill="#519aca"/>
<circle cx="390.0" cy="573.3" r="7.75" fill="#5a9fcd"/>
<circle cx="395.8" cy="576.7" r="7.75" fill="#60a3d0"/>
<circle cx="329.2" cy="584.2" r="7.75" fill="#2d72bc"/>
<circle cx="330.8" cy="594.2" r="7.75" fill="#2e73bc"/>
<circle cx="329.2" cy="604.2" r="7.75" fill="#2d72bc"/>
<circle cx="364.2" cy="586.7" r="7.75" fill="#468dc5"/>
<circle cx="365.8" cy="595.0" r="7.75" fill="#478ec5"/>
<circle cx="374.2" cy="597.5" r="7.75" fill="#4c94c8"/>
<circle cx="350.8" cy="598.3" r="7.75" fill="#3e83c1"/>
<circle cx="396.7" cy="589.2" r="7.75" fill="#61a4d0"/>
<circle cx="405.0" cy="595.0" r="7.75" fill="#69a9d3"/>
<circle cx="370.8" cy="610.0" r="7.75" fill="#4a92c7"/>
<circle cx="374.2" cy="620.8" r="7.75" fill="#4c94c8"/>
<circle cx="346.7" cy="618.3" r="7.75" fill="#3c80c0"/>
<circle cx="353.3" cy="618.7" r="7.75" fill="#4085c2"/>
<circle cx="302.5" cy="615.8" r="7.75" fill="#1c5aa9"/>
<circle cx="406.7" cy="625.0" r="7.75" fill="#6baad3"/>
<circle cx="280.8" cy="630.8" r="7.75" fill="#114896"/>
<circle cx="297.5" cy="627.5" r="7.75" fill="#1955a5"/>
<circle cx="305.0" cy="630.8" r="7.75" fill="#1d5cab"/>
<circle cx="301.7" cy="633.3" r="7.75" fill="#1b59a8"/>
<circle cx="320.8" cy="636.7" r="7.75" fill="#266bb9"/>
<circle cx="336.7" cy="639.2" r="7.75" fill="#3378bd"/>
<circle cx="337.5" cy="641.7" r="7.75" fill="#3478be"/>
<circle cx="364.2" cy="635.0" r="7.75" fill="#468dc5"/>
<circle cx="372.5" cy="639.2" r="7.75" fill="#4b93c7"/>
<circle cx="294.2" cy="645.8" r="7.75" fill="#1752a2"/>
<circle cx="320.0" cy="652.5" r="7.75" fill="#256ab8"/>
<circle cx="329.2" cy="656.7" r="7.75" fill="#2d72bc"/>
<circle cx="303.0" cy="660.8" r="7.75" fill="#1c5aa9"/>
<circle cx="342.5" cy="660.8" r="7.75" fill="#397cbf"/>
<circle cx="364.2" cy="657.5" r="7.75" fill="#468dc5"/>
<circle cx="375.0" cy="664.2" r="7.75" fill="#4c95c8"/>
<circle cx="370.8" cy="670.0" r="7.75" fill="#4a92c7"/>
<circle cx="266.7" cy="666.7" r="7.75" fill="#0c3e89"/>
<circle cx="325.8" cy="670.0" r="7.75" fill="#2a6fbb"/>
<circle cx="343.3" cy="670.8" r="7.75" fill="#397dbf"/>
<circle cx="349.2" cy="668.3" r="7.75" fill="#3d81c0"/>
<circle cx="395.8" cy="668.3" r="7.75" fill="#60a3d0"/>
<circle cx="280.8" cy="687.5" r="7.75" fill="#114896"/>
<circle cx="293.3" cy="685.0" r="7.75" fill="#1751a1"/>
<circle cx="292.5" cy="699.2" r="7.75" fill="#1751a0"/>
<circle cx="263.3" cy="705.0" r="7.75" fill="#0b3b85"/>
<circle cx="329.2" cy="686.7" r="7.75" fill="#2d72bc"/>
<circle cx="333.3" cy="687.5" r="7.75" fill="#3075bd"/>
<circle cx="343.3" cy="691.7" r="7.75" fill="#397dbf"/>
<circle cx="346.7" cy="689.2" r="7.75" fill="#3c80c0"/>
<circle cx="347.5" cy="700.0" r="7.75" fill="#3c80c0"/>
<circle cx="362.0" cy="685.8" r="7.75" fill="#458bc4"/>
<circle cx="391.7" cy="690.8" r="7.75" fill="#5ca0ce"/>
<circle cx="322.5" cy="701.3" r="7.75" fill="#276dba"/>
<circle cx="335.8" cy="707.5" r="7.75" fill="#3377bd"/>
<circle cx="371.7" cy="700.0" r="7.75" fill="#4a93c7"/>
<circle cx="400.5" cy="706.3" r="7.75" fill="#65a6d1"/>
<circle cx="364.2" cy="712.5" r="7.75" fill="#468dc5"/>
<circle cx="350.8" cy="717.5" r="7.75" fill="#3e83c1"/>
<circle cx="414.2" cy="720.0" r="7.75" fill="#72afd6"/>
<circle cx="327.5" cy="726.7" r="7.75" fill="#2b71bb"/>
<circle cx="375.0" cy="723.3" r="7.75" fill="#4c95c8"/>
<circle cx="386.7" cy="725.0" r="7.75" fill="#569dcc"/>
<circle cx="388.3" cy="725.3" r="7.75" fill="#589ecd"/>
<circle cx="358.0" cy="732.2" r="7.75" fill="#4288c3"/>
<circle cx="309.5" cy="744.7" r="7.75" fill="#2061af"/>
<circle cx="391.3" cy="746.3" r="7.75" fill="#5ba0ce"/>
<circle cx="398.7" cy="754.7" r="7.75" fill="#63a5d1"/>
<circle cx="277.5" cy="754.7" r="7.75" fill="#104593"/>
<circle cx="285.8" cy="766.7" r="7.75" fill="#134b9a"/>
<circle cx="287.5" cy="773.3" r="7.75" fill="#144c9c"/>
<circle cx="290.0" cy="785.8" r="7.75" fill="#154e9e"/>
<circle cx="354.5" cy="766.7" r="7.75" fill="#4086c2"/>
<circle cx="378.8" cy="775.5" r="7.75" fill="#4e98c9"/>
<circle cx="420.0" cy="775.5" r="7.75" fill="#78b2d8"/>
<circle cx="262.5" cy="799.2" r="7.75" fill="#0a3a84"/>
<circle cx="260.0" cy="810.8" r="7.75" fill="#093880"/>
<circle cx="270.8" cy="815.3" r="7.75" fill="#0d418d"/>
<circle cx="361.7" cy="806.2" r="7.75" fill="#448bc4"/>
<circle cx="405.8" cy="810.8" r="7.75" fill="#6aa9d3"/>
<circle cx="415.8" cy="818.7" r="7.75" fill="#74b0d7"/>
<circle cx="332.5" cy="822.5" r="7.75" fill="#3075bc"/>
<circle cx="338.3" cy="830.0" r="7.75" fill="#3579be"/>
<circle cx="371.7" cy="828.3" r="7.75" fill="#4a93c7"/>
<circle cx="371.3" cy="828.8" r="7.75" fill="#4a92c7"/>
<circle cx="334.2" cy="842.5" r="7.75" fill="#3176bd"/>
<circle cx="346.7" cy="840.8" r="7.75" fill="#3c80c0"/>
<circle cx="320.5" cy="850.8" r="7.75" fill="#266bb9"/>
<circle cx="410.8" cy="842.5" r="7.75" fill="#6fadd5"/>
<circle cx="265.0" cy="852.5" r="7.75" fill="#0b3d88"/>
<circle cx="323.3" cy="865.0" r="7.75" fill="#286dba"/>
<circle cx="393.8" cy="858.3" r="7.75" fill="#5ea2cf"/>
<circle cx="267.5" cy="878.3" r="7.75" fill="#0c3f8a"/>
<circle cx="397.5" cy="879.2" r="7.75" fill="#62a4d0"/>
</g>
<polygon points="632.0,56.1 619.7,63.2 619.7,77.4 632.0,84.5 644.3,77.4 644.3,63.2" fill="#fbe4d6" fill-opacity="0.98" stroke="#4d4d4d" stroke-width="3.0" stroke-linejoin="miter"/>
<polygon points="650.3,297.3 638.0,304.4 638.0,318.6 650.3,325.7 662.6,318.6 662.6,304.4" fill="#fddcc9" fill-opacity="0.98" stroke="#4d4d4d" stroke-width="3.0" stroke-linejoin="miter"/>
<polygon points="778.7,290.1 766.4,297.2 766.4,311.4 778.7,318.5 791.0,311.4 791.0,297.2" fill="#dc6a55" fill-opacity="0.98" stroke="#4d4d4d" stroke-width="3.0" stroke-linejoin="miter"/>
<polygon points="645.8,557.6 633.5,564.7 633.5,578.9 645.8,586.0 658.1,578.9 658.1,564.7" fill="#fcdecd" fill-opacity="0.98" stroke="#4d4d4d" stroke-width="3.0" stroke-linejoin="miter"/>
<polygon points="780.5,662.1 768.2,669.2 768.2,683.4 780.5,690.5 792.8,683.4 792.8,669.2" fill="#dc6a55" fill-opacity="0.98" stroke="#4d4d4d" stroke-width="3.0" stroke-linejoin="miter"/>
<polygon points="855.8,681.6 843.5,688.7 843.5,702.9 855.8,710.0 868.1,702.9 868.1,688.7" fill="#ba2832" fill-opacity="0.98" stroke="#4d4d4d" stroke-width="3.0" stroke-linejoin="miter"/>
<polygon points="945.0,756.2 932.7,763.3 932.7,777.5 945.0,784.6 957.3,777.5 957.3,763.3" fill="#67001f" fill-opacity="0.98" stroke="#4d4d4d" stroke-width="3.0" stroke-linejoin="miter"/>
<polygon points="780.5,804.6 768.2,811.7 768.2,825.9 780.5,833.0 792.8,825.9 792.8,811.7" fill="#dc6a55" fill-opacity="0.98" stroke="#4d4d4d" stroke-width="3.0" stroke-linejoin="miter"/>
<polygon points="898.0,802.7 885.7,809.8 885.7,824.0 898.0,831.1 910.3,824.0 910.3,809.8" fill="#850b27" fill-opacity="0.98" stroke="#4d4d4d" stroke-width="3.0" stroke-linejoin="miter"/>
<polygon points="809.5,862.6 797.2,869.7 797.2,883.9 809.5,891.0 821.8,883.9 821.8,869.7" fill="#d05548" fill-opacity="0.98" stroke="#4d4d4d" stroke-width="3.0" stroke-linejoin="miter"/>
<polygon points="503.8,854.1 491.5,861.2 491.5,875.4 503.8,882.5 516.1,875.4 516.1,861.2" fill="#cce2ef" fill-opacity="0.98" stroke="#4d4d4d" stroke-width="3.0" stroke-linejoin="miter"/>
<polygon points="794.2,443.4 769.4,457.7 769.4,486.3 794.2,500.6 819.0,486.3 819.0,457.7" fill="#d55e4c" fill-opacity="0.98" stroke="#000" stroke-width="3.7" stroke-linejoin="miter"/>
</g>
<rect x="538.0" y="92.5" width="187.0" height="30.4" fill="#fff" fill-opacity="0.86"/>
<rect x="776.8" y="256.2" width="215.8" height="30.4" fill="#fff" fill-opacity="0.86"/>
<rect x="541.0" y="327.0" width="108.8" height="30.4" fill="#fff" fill-opacity="0.86"/>
<rect x="725.3" y="501.6" width="267.5" height="36.5" fill="#fff" fill-opacity="0.86"/>
<rect x="561.8" y="587.2" width="169.3" height="30.4" fill="#fff" fill-opacity="0.86"/>
<rect x="609.5" y="684.2" width="172.0" height="30.4" fill="#fff" fill-opacity="0.86"/>
<rect x="757.7" y="714.3" width="192.3" height="30.4" fill="#fff" fill-opacity="0.86"/>
<rect x="747.5" y="756.8" width="184.3" height="30.4" fill="#fff" fill-opacity="0.86"/>
<rect x="582.5" y="807.5" width="172.0" height="30.4" fill="#fff" fill-opacity="0.86"/>
<rect x="811.5" y="834.3" width="173.7" height="30.4" fill="#fff" fill-opacity="0.86"/>
<rect x="713.0" y="897.8" width="195.1" height="30.4" fill="#fff" fill-opacity="0.86"/>
<rect x="440.8" y="884.3" width="126.6" height="30.4" fill="#fff" fill-opacity="0.86"/>
<text x="538.5" y="117.0" font-size="32.5">TYC-8998 b</text>
<text x="777.3" y="280.7" font-size="32.5">HD 106906 b</text>
<text x="541.5" y="351.5" font-size="32.5"><tspan font-style="italic">β</tspan><tspan dx="1"> Pic b</tspan></text>
<text x="725.8" y="531.0" font-size="39.0" font-weight="bold">HIP 65426 b</text>
<text x="562.3" y="611.7" font-size="32.5">HR 8799 c</text>
<text x="610.0" y="708.7" font-size="32.5">HR 8799 d</text>
<text x="758.2" y="738.8" font-size="32.5">VHS 1256 b</text>
<text x="748.0" y="781.3" font-size="32.5">TYC-8998 c</text>
<text x="583.0" y="832.0" font-size="32.5">HR 8799 b</text>
<text x="812.0" y="858.8" font-size="32.5">2M 1207 b</text>
<text x="713.5" y="922.3" font-size="32.5">HD 95086 b</text>
<text x="441.3" y="908.8" font-size="32.5">51 Eri b</text>
<rect x="601.3" y="930.9" width="378.6" height="104.6" rx="6.5" ry="6.5" fill="#fff" fill-opacity="0.8" stroke="#cccccc" stroke-opacity="0.8" stroke-width="4.2"/><circle cx="646.5" cy="960" r="8" fill="#6aaad0" fill-opacity="0.85" stroke="#808080" stroke-width="2.9"/><polygon points="646.6,993.2 634.3,1000.3 634.3,1014.5 646.6,1021.6 658.9,1014.5 658.9,1000.3" fill="#d6604d" fill-opacity="0.9" stroke="#4d4d4d" stroke-width="3.0"/><text x="705.5" y="969" font-size="32.3">Brown dwarfs</text><text x="705.5" y="1016" font-size="32.3">DI planets/PMCs</text>
<rect x="149.4" y="23.3" width="847.1" height="1028.75" fill="none" stroke="#000" stroke-width="5.25" stroke-linejoin="miter"/>
<g stroke="#000">
<line x1="166.69" y1="1052.05" x2="166.69" y2="1067.6499999999999" stroke-width="4.6"/>
<line x1="166.69" y1="23.3" x2="166.69" y2="7.700000000000001" stroke-width="4.6"/>
<line x1="201.26" y1="1052.05" x2="201.26" y2="1067.6499999999999" stroke-width="4.6"/>
<line x1="201.26" y1="23.3" x2="201.26" y2="7.700000000000001" stroke-width="4.6"/>
<line x1="235.84" y1="1052.05" x2="235.84" y2="1075.55" stroke-width="5.6"/>
<line x1="235.84" y1="23.3" x2="235.84" y2="-0.1999999999999993" stroke-width="5.6"/>
<line x1="270.41" y1="1052.05" x2="270.41" y2="1067.6499999999999" stroke-width="4.6"/>
<line x1="270.41" y1="23.3" x2="270.41" y2="7.700000000000001" stroke-width="4.6"/>
<line x1="304.99" y1="1052.05" x2="304.99" y2="1067.6499999999999" stroke-width="4.6"/>
<line x1="304.99" y1="23.3" x2="304.99" y2="7.700000000000001" stroke-width="4.6"/>
<line x1="339.57" y1="1052.05" x2="339.57" y2="1067.6499999999999" stroke-width="4.6"/>
<line x1="339.57" y1="23.3" x2="339.57" y2="7.700000000000001" stroke-width="4.6"/>
<line x1="374.14" y1="1052.05" x2="374.14" y2="1067.6499999999999" stroke-width="4.6"/>
<line x1="374.14" y1="23.3" x2="374.14" y2="7.700000000000001" stroke-width="4.6"/>
<line x1="408.72" y1="1052.05" x2="408.72" y2="1075.55" stroke-width="5.6"/>
<line x1="408.72" y1="23.3" x2="408.72" y2="-0.1999999999999993" stroke-width="5.6"/>
<line x1="443.29" y1="1052.05" x2="443.29" y2="1067.6499999999999" stroke-width="4.6"/>
<line x1="443.29" y1="23.3" x2="443.29" y2="7.700000000000001" stroke-width="4.6"/>
<line x1="477.87" y1="1052.05" x2="477.87" y2="1067.6499999999999" stroke-width="4.6"/>
<line x1="477.87" y1="23.3" x2="477.87" y2="7.700000000000001" stroke-width="4.6"/>
<line x1="512.44" y1="1052.05" x2="512.44" y2="1067.6499999999999" stroke-width="4.6"/>
<line x1="512.44" y1="23.3" x2="512.44" y2="7.700000000000001" stroke-width="4.6"/>
<line x1="547.02" y1="1052.05" x2="547.02" y2="1067.6499999999999" stroke-width="4.6"/>
<line x1="547.02" y1="23.3" x2="547.02" y2="7.700000000000001" stroke-width="4.6"/>
<line x1="581.59" y1="1052.05" x2="581.59" y2="1075.55" stroke-width="5.6"/>
<line x1="581.59" y1="23.3" x2="581.59" y2="-0.1999999999999993" stroke-width="5.6"/>
<line x1="616.17" y1="1052.05" x2="616.17" y2="1067.6499999999999" stroke-width="4.6"/>
<line x1="616.17" y1="23.3" x2="616.17" y2="7.700000000000001" stroke-width="4.6"/>
<line x1="650.74" y1="1052.05" x2="650.74" y2="1067.6499999999999" stroke-width="4.6"/>
<line x1="650.74" y1="23.3" x2="650.74" y2="7.700000000000001" stroke-width="4.6"/>
<line x1="685.32" y1="1052.05" x2="685.32" y2="1067.6499999999999" stroke-width="4.6"/>
<line x1="685.32" y1="23.3" x2="685.32" y2="7.700000000000001" stroke-width="4.6"/>
<line x1="719.90" y1="1052.05" x2="719.90" y2="1067.6499999999999" stroke-width="4.6"/>
<line x1="719.90" y1="23.3" x2="719.90" y2="7.700000000000001" stroke-width="4.6"/>
<line x1="754.47" y1="1052.05" x2="754.47" y2="1075.55" stroke-width="5.6"/>
<line x1="754.47" y1="23.3" x2="754.47" y2="-0.1999999999999993" stroke-width="5.6"/>
<line x1="789.05" y1="1052.05" x2="789.05" y2="1067.6499999999999" stroke-width="4.6"/>
<line x1="789.05" y1="23.3" x2="789.05" y2="7.700000000000001" stroke-width="4.6"/>
<line x1="823.62" y1="1052.05" x2="823.62" y2="1067.6499999999999" stroke-width="4.6"/>
<line x1="823.62" y1="23.3" x2="823.62" y2="7.700000000000001" stroke-width="4.6"/>
<line x1="858.20" y1="1052.05" x2="858.20" y2="1067.6499999999999" stroke-width="4.6"/>
<line x1="858.20" y1="23.3" x2="858.20" y2="7.700000000000001" stroke-width="4.6"/>
<line x1="892.77" y1="1052.05" x2="892.77" y2="1067.6499999999999" stroke-width="4.6"/>
<line x1="892.77" y1="23.3" x2="892.77" y2="7.700000000000001" stroke-width="4.6"/>
<line x1="927.35" y1="1052.05" x2="927.35" y2="1075.55" stroke-width="5.6"/>
<line x1="927.35" y1="23.3" x2="927.35" y2="-0.1999999999999993" stroke-width="5.6"/>
<line x1="961.92" y1="1052.05" x2="961.92" y2="1067.6499999999999" stroke-width="4.6"/>
<line x1="961.92" y1="23.3" x2="961.92" y2="7.700000000000001" stroke-width="4.6"/>
<line x1="996.50" y1="1052.05" x2="996.50" y2="1067.6499999999999" stroke-width="4.6"/>
<line x1="996.50" y1="23.3" x2="996.50" y2="7.700000000000001" stroke-width="4.6"/>
<line x1="149.4" y1="37.02" x2="133.8" y2="37.02" stroke-width="4.6"/>
<line x1="996.5" y1="37.02" x2="1012.1" y2="37.02" stroke-width="4.6"/>
<line x1="149.4" y1="64.45" x2="133.8" y2="64.45" stroke-width="4.6"/>
<line x1="996.5" y1="64.45" x2="1012.1" y2="64.45" stroke-width="4.6"/>
<line x1="149.4" y1="91.88" x2="125.9" y2="91.88" stroke-width="5.6"/>
<line x1="996.5" y1="91.88" x2="1020.0" y2="91.88" stroke-width="5.6"/>
<line x1="149.4" y1="119.32" x2="133.8" y2="119.32" stroke-width="4.6"/>
<line x1="996.5" y1="119.32" x2="1012.1" y2="119.32" stroke-width="4.6"/>
<line x1="149.4" y1="146.75" x2="133.8" y2="146.75" stroke-width="4.6"/>
<line x1="996.5" y1="146.75" x2="1012.1" y2="146.75" stroke-width="4.6"/>
<line x1="149.4" y1="174.18" x2="133.8" y2="174.18" stroke-width="4.6"/>
<line x1="996.5" y1="174.18" x2="1012.1" y2="174.18" stroke-width="4.6"/>
<line x1="149.4" y1="201.62" x2="133.8" y2="201.62" stroke-width="4.6"/>
<line x1="996.5" y1="201.62" x2="1012.1" y2="201.62" stroke-width="4.6"/>
<line x1="149.4" y1="229.05" x2="125.9" y2="229.05" stroke-width="5.6"/>
<line x1="996.5" y1="229.05" x2="1020.0" y2="229.05" stroke-width="5.6"/>
<line x1="149.4" y1="256.48" x2="133.8" y2="256.48" stroke-width="4.6"/>
<line x1="996.5" y1="256.48" x2="1012.1" y2="256.48" stroke-width="4.6"/>
<line x1="149.4" y1="283.92" x2="133.8" y2="283.92" stroke-width="4.6"/>
<line x1="996.5" y1="283.92" x2="1012.1" y2="283.92" stroke-width="4.6"/>
<line x1="149.4" y1="311.35" x2="133.8" y2="311.35" stroke-width="4.6"/>
<line x1="996.5" y1="311.35" x2="1012.1" y2="311.35" stroke-width="4.6"/>
<line x1="149.4" y1="338.78" x2="133.8" y2="338.78" stroke-width="4.6"/>
<line x1="996.5" y1="338.78" x2="1012.1" y2="338.78" stroke-width="4.6"/>
<line x1="149.4" y1="366.22" x2="125.9" y2="366.22" stroke-width="5.6"/>
<line x1="996.5" y1="366.22" x2="1020.0" y2="366.22" stroke-width="5.6"/>
<line x1="149.4" y1="393.65" x2="133.8" y2="393.65" stroke-width="4.6"/>
<line x1="996.5" y1="393.65" x2="1012.1" y2="393.65" stroke-width="4.6"/>
<line x1="149.4" y1="421.08" x2="133.8" y2="421.08" stroke-width="4.6"/>
<line x1="996.5" y1="421.08" x2="1012.1" y2="421.08" stroke-width="4.6"/>
<line x1="149.4" y1="448.52" x2="133.8" y2="448.52" stroke-width="4.6"/>
<line x1="996.5" y1="448.52" x2="1012.1" y2="448.52" stroke-width="4.6"/>
<line x1="149.4" y1="475.95" x2="133.8" y2="475.95" stroke-width="4.6"/>
<line x1="996.5" y1="475.95" x2="1012.1" y2="475.95" stroke-width="4.6"/>
<line x1="149.4" y1="503.38" x2="125.9" y2="503.38" stroke-width="5.6"/>
<line x1="996.5" y1="503.38" x2="1020.0" y2="503.38" stroke-width="5.6"/>
<line x1="149.4" y1="530.82" x2="133.8" y2="530.82" stroke-width="4.6"/>
<line x1="996.5" y1="530.82" x2="1012.1" y2="530.82" stroke-width="4.6"/>
<line x1="149.4" y1="558.25" x2="133.8" y2="558.25" stroke-width="4.6"/>
<line x1="996.5" y1="558.25" x2="1012.1" y2="558.25" stroke-width="4.6"/>
<line x1="149.4" y1="585.68" x2="133.8" y2="585.68" stroke-width="4.6"/>
<line x1="996.5" y1="585.68" x2="1012.1" y2="585.68" stroke-width="4.6"/>
<line x1="149.4" y1="613.12" x2="133.8" y2="613.12" stroke-width="4.6"/>
<line x1="996.5" y1="613.12" x2="1012.1" y2="613.12" stroke-width="4.6"/>
<line x1="149.4" y1="640.55" x2="125.9" y2="640.55" stroke-width="5.6"/>
<line x1="996.5" y1="640.55" x2="1020.0" y2="640.55" stroke-width="5.6"/>
<line x1="149.4" y1="667.98" x2="133.8" y2="667.98" stroke-width="4.6"/>
<line x1="996.5" y1="667.98" x2="1012.1" y2="667.98" stroke-width="4.6"/>
<line x1="149.4" y1="695.42" x2="133.8" y2="695.42" stroke-width="4.6"/>
<line x1="996.5" y1="695.42" x2="1012.1" y2="695.42" stroke-width="4.6"/>
<line x1="149.4" y1="722.85" x2="133.8" y2="722.85" stroke-width="4.6"/>
<line x1="996.5" y1="722.85" x2="1012.1" y2="722.85" stroke-width="4.6"/>
<line x1="149.4" y1="750.28" x2="133.8" y2="750.28" stroke-width="4.6"/>
<line x1="996.5" y1="750.28" x2="1012.1" y2="750.28" stroke-width="4.6"/>
<line x1="149.4" y1="777.72" x2="125.9" y2="777.72" stroke-width="5.6"/>
<line x1="996.5" y1="777.72" x2="1020.0" y2="777.72" stroke-width="5.6"/>
<line x1="149.4" y1="805.15" x2="133.8" y2="805.15" stroke-width="4.6"/>
<line x1="996.5" y1="805.15" x2="1012.1" y2="805.15" stroke-width="4.6"/>
<line x1="149.4" y1="832.58" x2="133.8" y2="832.58" stroke-width="4.6"/>
<line x1="996.5" y1="832.58" x2="1012.1" y2="832.58" stroke-width="4.6"/>
<line x1="149.4" y1="860.02" x2="133.8" y2="860.02" stroke-width="4.6"/>
<line x1="996.5" y1="860.02" x2="1012.1" y2="860.02" stroke-width="4.6"/>
<line x1="149.4" y1="887.45" x2="133.8" y2="887.45" stroke-width="4.6"/>
<line x1="996.5" y1="887.45" x2="1012.1" y2="887.45" stroke-width="4.6"/>
<line x1="149.4" y1="914.88" x2="125.9" y2="914.88" stroke-width="5.6"/>
<line x1="996.5" y1="914.88" x2="1020.0" y2="914.88" stroke-width="5.6"/>
<line x1="149.4" y1="942.32" x2="133.8" y2="942.32" stroke-width="4.6"/>
<line x1="996.5" y1="942.32" x2="1012.1" y2="942.32" stroke-width="4.6"/>
<line x1="149.4" y1="969.75" x2="133.8" y2="969.75" stroke-width="4.6"/>
<line x1="996.5" y1="969.75" x2="1012.1" y2="969.75" stroke-width="4.6"/>
<line x1="149.4" y1="997.18" x2="133.8" y2="997.18" stroke-width="4.6"/>
<line x1="996.5" y1="997.18" x2="1012.1" y2="997.18" stroke-width="4.6"/>
<line x1="149.4" y1="1024.62" x2="133.8" y2="1024.62" stroke-width="4.6"/>
<line x1="996.5" y1="1024.62" x2="1012.1" y2="1024.62" stroke-width="4.6"/>
<line x1="149.4" y1="1052.05" x2="125.9" y2="1052.05" stroke-width="5.6"/>
<line x1="996.5" y1="1052.05" x2="1020.0" y2="1052.05" stroke-width="5.6"/>
</g>
<g font-size="43.4" fill="#000">
<text x="117.9" y="108.8" text-anchor="end">11</text>
<text x="117.9" y="246.0" text-anchor="end">12</text>
<text x="117.9" y="383.1" text-anchor="end">13</text>
<text x="117.9" y="520.3" text-anchor="end">14</text>
<text x="117.9" y="657.4" text-anchor="end">15</text>
<text x="117.9" y="794.6" text-anchor="end">16</text>
<text x="117.9" y="931.8" text-anchor="end">17</text>
<text x="117.9" y="1069.0" text-anchor="end">18</text>
<text x="235.8" y="1118" text-anchor="middle">−1</text>
<text x="408.7" y="1118" text-anchor="middle">0</text>
<text x="581.6" y="1118" text-anchor="middle">1</text>
<text x="754.5" y="1118" text-anchor="middle">2</text>
<text x="927.3" y="1118" text-anchor="middle">3</text>
</g>
<text x="572.2" y="1172" font-size="46.7" font-weight="bold" text-anchor="middle">J - K [mag]</text>
<g font-weight="bold">
<text transform="translate(36,653.4) rotate(-90)" font-size="47.5">M</text>
<text transform="translate(44.4,606.6) rotate(-90)" font-size="33" font-weight="normal">J</text>
<text transform="translate(36,579.6) rotate(-90)" font-size="47.6" textLength="157.0" lengthAdjust="spacingAndGlyphs">[mag]</text>
</g>
</svg>
</body></html>
